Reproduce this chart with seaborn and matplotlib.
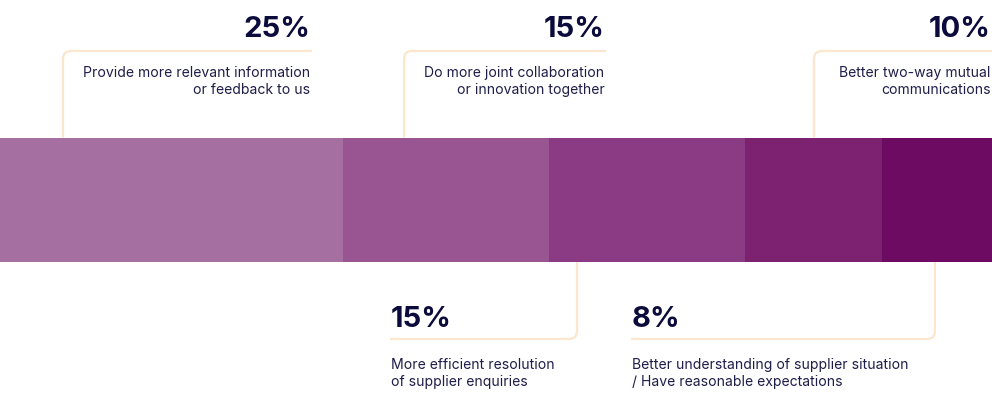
import matplotlib
matplotlib.use("Agg")
import matplotlib.pyplot as plt
from matplotlib.path import Path
from matplotlib.patches import PathPatch
import seaborn as sns
import numpy as np

# data (segment widths; labels are the rounded shares)
labels = [
    "Provide more relevant information\nor feedback to us",
    "Do more joint collaboration\nor innovation together",
    "More efficient resolution\nof supplier enquiries",
    "Better two-way mutual\ncommunications",
    "Better understanding of supplier situation\n/ Have reasonable expectations",
]
values = [25, 15, 14.3, 10, 8]
pct_labels = ["25%", "15%", "15%", "10%", "8%"]
sides = ["top", "top", "bottom", "top", "bottom"]

colors = ["#A66FA2", "#985591", "#8B3A84", "#7C2271", "#6D0A61"]
line_color = "#FCE6CE"
pct_color = "#0C0C3C"
text_color = "#1E1E4A"

# layout (pixels)
W, H = 992, 393
anchor_px = [63, 404, 577, 814, 935]
end_px = [312, 606, 390, 992, 631]
bar_top, bar_bot = 137.5, 262
top_line_y, bot_line_y = 51, 339
radius = 8

sns.set_theme(style="white")
plt.rcParams["font.family"] = ["Inter", "DejaVu Sans"]

total = sum(values)
lefts = np.cumsum([0] + values[:-1])
px = total / W  # data units per pixel along x

fig = plt.figure(figsize=(W / 100, H / 100), dpi=100)
ax = fig.add_axes([0, 0, 1, 1])
ax.set_xlim(0, total)
ax.set_ylim(H, 0)
ax.axis("off")

ax.barh(y=(bar_top + bar_bot) / 2, width=values, left=lefts,
        height=bar_bot - bar_top, color=colors, edgecolor="none")

for i in range(len(values)):
    ax_x = anchor_px[i] * px
    end_x = end_px[i] * px
    if sides[i] == "top":
        y0, y1 = bar_top, top_line_y
        verts = [(ax_x, y0), (ax_x, y1 + radius), (ax_x, y1),
                 (ax_x + radius * px, y1), (end_x, y1)]
    else:
        y0, y1 = bar_bot, bot_line_y
        verts = [(ax_x, y0), (ax_x, y1 - radius), (ax_x, y1),
                 (ax_x - radius * px, y1), (end_x, y1)]
    codes = [Path.MOVETO, Path.LINETO, Path.CURVE3, Path.CURVE3, Path.LINETO]
    ax.add_patch(PathPatch(Path(verts, codes), facecolor="none",
                           edgecolor=line_color, lw=1.6, capstyle="butt"))

    lines = labels[i].split("\n")
    if sides[i] == "top":
        tx = end_x - 1.5 * px
        ax.text(tx, 37, pct_labels[i], ha="right", va="baseline",
                fontsize=21, fontweight="bold", color=pct_color)
        for j, ln in enumerate(lines):
            ax.text(tx, 77 + 17 * j, ln, ha="right", va="baseline",
                    fontsize=10.1, color=text_color)
    else:
        tx = end_x + 1 * px
        ax.text(tx, 327, pct_labels[i], ha="left", va="baseline",
                fontsize=21, fontweight="bold", color=pct_color)
        for j, ln in enumerate(lines):
            ax.text(tx, 369 + 17 * j, ln, ha="left", va="baseline",
                    fontsize=10.1, color=text_color)

fig.savefig("out.png", dpi=100, facecolor="white")
